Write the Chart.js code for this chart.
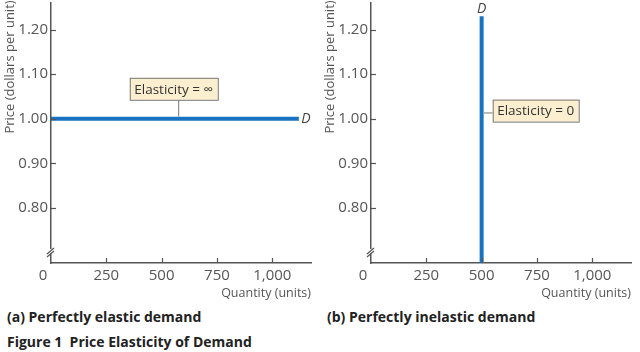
<!DOCTYPE html>
<html lang="en">
<head>
    <meta charset="UTF-8">
    <title>Price Elasticity of Demand</title>
    <script src="https://cdn.jsdelivr.net/npm/chart.js"></script>
    <style>
        body { margin: 0; background: #fff; width: 640px; height: 352px; position: relative; overflow: hidden; font-family: "Open Sans", sans-serif; }
        .panel { position: absolute; top: 0; width: 320px; height: 300px; }
        .cap { position: absolute; font-weight: 700; font-size: 14px; color: #222; white-space: pre; }
    </style>
</head>
<body>
    <div class="panel" style="left:0"><canvas id="chartA" width="320" height="300"></canvas></div>
    <div class="panel" style="left:320px"><canvas id="chartB" width="320" height="300"></canvas></div>
    <div class="cap" style="left:7px; top:307px">(a) Perfectly elastic demand</div>
    <div class="cap" style="left:327px; top:307px">(b) Perfectly inelastic demand</div>
    <div class="cap" style="left:7px; top:332px">Figure 1  Price Elasticity of Demand</div>

    <script>
        const quantityTicks = [0, 250, 500, 750, 1000];
        const priceTicks = [0.80, 0.90, 1.00, 1.10, 1.20];
        const elasticQty = [0, 1120];
        const elasticPrice = [1.00, 1.00];
        const inelasticQty = [500, 500];
        const inelasticPrice = [0.676, 1.23];

        const axisColor = '#555';
        const lineBlue = '#1a73c2';

        // draws inner tick marks, axis break, the "0", axis titles, D label and callout
        const extras = {
            id: 'extras',
            afterDraw(chart, args, opts) {
                const ctx = chart.ctx;
                const x = chart.scales.x, y = chart.scales.y;
                const area = chart.chartArea;
                ctx.save();
                ctx.strokeStyle = axisColor;
                ctx.lineWidth = 1.2;
                // inner ticks
                quantityTicks.slice(1).forEach(q => {
                    const px = Math.round(x.getPixelForValue(q)) + 0.5;
                    ctx.beginPath(); ctx.moveTo(px, area.bottom); ctx.lineTo(px, area.bottom - 5); ctx.stroke();
                });
                priceTicks.forEach(p => {
                    const py = Math.round(y.getPixelForValue(p)) + 0.5;
                    ctx.beginPath(); ctx.moveTo(area.left, py); ctx.lineTo(area.left + 5, py); ctx.stroke();
                });
                // axis break
                ctx.fillStyle = '#fff';
                ctx.fillRect(area.left - 2, area.bottom - 14, 4, 4);
                ctx.beginPath();
                ctx.moveTo(area.left - 4, area.bottom - 9); ctx.lineTo(area.left + 3, area.bottom - 15);
                ctx.moveTo(area.left - 4, area.bottom - 6); ctx.lineTo(area.left + 3, area.bottom - 12);
                ctx.stroke();
                // origin label
                ctx.fillStyle = '#555';
                ctx.font = '15px "Open Sans"';
                ctx.textAlign = 'center';
                ctx.textBaseline = 'middle';
                ctx.fillText('0', x.getPixelForValue(0) - 8, area.bottom + 13);
                // x axis title
                ctx.font = '12.5px "Open Sans"';
                ctx.textAlign = 'right';
                ctx.fillText('Quantity (units)', area.right, area.bottom + 30);
                // y axis title
                ctx.save();
                ctx.translate(10, 67);
                ctx.rotate(-Math.PI / 2);
                ctx.textAlign = 'center';
                ctx.font = '13px "Open Sans"';
                ctx.fillText('Price (dollars per unit)', 0, 0);
                ctx.restore();
                // D label
                ctx.font = 'italic 14px "Open Sans"';
                ctx.fillStyle = '#444';
                ctx.textAlign = 'center';
                ctx.fillText('D', x.getPixelForValue(opts.d[0]), y.getPixelForValue(opts.d[1]));
                // callout
                const c = opts.callout;
                const bx = x.getPixelForValue(c.box[0]), by = y.getPixelForValue(c.box[1]);
                ctx.strokeStyle = '#777';
                ctx.lineWidth = 1;
                ctx.beginPath();
                ctx.moveTo(x.getPixelForValue(c.from[0]), y.getPixelForValue(c.from[1]));
                ctx.lineTo(x.getPixelForValue(c.to[0]), y.getPixelForValue(c.to[1]));
                ctx.stroke();
                ctx.font = '13.5px "Open Sans"';
                const w = Math.round(ctx.measureText(c.text).width) + 9;
                ctx.fillStyle = '#fcefcf';
                ctx.fillRect(bx, by, w, 22);
                ctx.strokeRect(bx + 0.5, by + 0.5, w, 22);
                ctx.fillStyle = '#333';
                ctx.textAlign = 'left';
                ctx.fillText(c.text, bx + 4.5, by + 12);
                ctx.restore();
            }
        };

        function makeChart(id, qty, price, opts) {
            return new Chart(document.getElementById(id), {
                type: 'scatter',
                data: {
                    datasets: [{
                        data: qty.map((q, i) => ({ x: q, y: price[i] })),
                        showLine: true,
                        borderColor: lineBlue,
                        borderWidth: 4,
                        pointRadius: 0,
                        borderCapStyle: 'butt'
                    }]
                },
                options: {
                    responsive: false,
                    animation: false,
                    layout: { padding: { top: 3, right: 9, left: 0, bottom: 0 } },
                    plugins: { legend: { display: false }, tooltip: { enabled: false }, extras: opts },
                    scales: {
                        x: {
                            type: 'linear', min: 0, max: 1175,
                            afterBuildTicks: s => { s.ticks = quantityTicks.map(v => ({ value: v })); },
                            afterFit: s => { s.height = 37; s.paddingLeft = 0; s.paddingRight = 0; },
                            ticks: {
                                color: '#555', font: { family: 'Open Sans', size: 15 }, padding: 4,
                                maxRotation: 0,
                                callback: v => v === 0 ? '' : v.toLocaleString('en-US')
                            },
                            grid: { drawOnChartArea: false, drawTicks: false },
                            border: { color: axisColor, width: 1.5 }
                        },
                        y: {
                            type: 'linear', min: 0.676, max: 1.26,
                            afterBuildTicks: s => { s.ticks = priceTicks.map(v => ({ value: v })); },
                            afterFit: s => { s.width = 51; s.paddingTop = 0; s.paddingBottom = 0; },
                            ticks: {
                                color: '#555', font: { family: 'Open Sans', size: 15 }, padding: 3,
                                callback: v => v.toFixed(2)
                            },
                            grid: { drawOnChartArea: false, drawTicks: false },
                            border: { color: axisColor, width: 1.5 }
                        }
                    }
                },
                plugins: [extras]
            });
        }

        makeChart('chartA', elasticQty, elasticPrice, {
            d: [1152, 1.00],
            callout: { text: 'Elasticity = \u221E', box: [356, 1.092], from: [577, 1.043], to: [577, 1.005] }
        });
        makeChart('chartB', inelasticQty, inelasticPrice, {
            d: [500, 1.247],
            callout: { text: 'Elasticity = 0', box: [550, 1.043], from: [510, 1.013], to: [550, 1.013] }
        });
    </script>
</body>
</html>
